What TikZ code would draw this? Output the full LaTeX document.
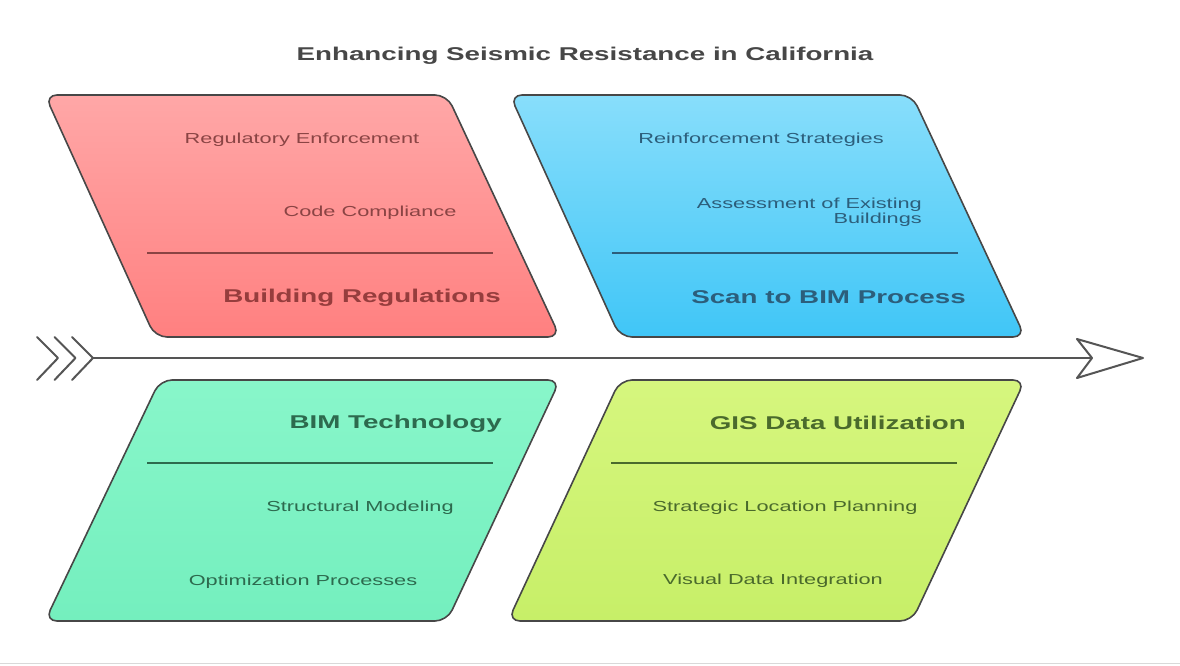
\documentclass[tikz,border=0pt]{standalone}
\usepackage{fontspec}
\setmainfont{Liberation Sans}[FakeStretch=1.5]
\usepackage{tikz}
\usetikzlibrary{shapes,arrows.meta}
\definecolor{edge}{HTML}{474747}
\definecolor{spinec}{HTML}{555555}
\definecolor{redtop}{HTML}{FFA7A7}
\definecolor{redbot}{HTML}{FF8080}
\definecolor{redtxt}{HTML}{8A4444}
\definecolor{bluetop}{HTML}{88DEFB}
\definecolor{bluebot}{HTML}{40C6F7}
\definecolor{bluetxt}{HTML}{2C5E7B}
\definecolor{greentop}{HTML}{88F6CA}
\definecolor{greenbot}{HTML}{74EFBE}
\definecolor{greentxt}{HTML}{2D6A4E}
\definecolor{limetop}{HTML}{D6F67E}
\definecolor{limebot}{HTML}{C7EF68}
\definecolor{limetxt}{HTML}{4A6A2C}
\tikzstyle{bone} = [draw=edge, line width=1.6pt, rounded corners=12pt]
\tikzstyle{sep} = [draw, line width=1.3pt]
\tikzstyle{item} = [inner sep=0pt, font=\fontsize{14.5}{15}\selectfont]
\tikzstyle{head} = [inner sep=0pt, anchor=east, font=\fontsize{18.5}{20}\selectfont\bfseries]
\tikzstyle{spine} = [draw=spinec, line width=2pt]

\begin{document}
\begin{tikzpicture}[x=1pt, y=-1pt]
		            \useasboundingbox (0,0) rectangle (1180,665);
		                \draw [black!15, line width=1pt] (0,663) -- (1180,663);
		                \node [inner sep=0pt, text=black!72, font=\fontsize{18.5}{20}\selectfont\bfseries] (title) at (585,56) {Enhancing Seismic Resistance in California};
		                \path [bone, top color=redtop, bottom color=redbot] (45,95) -- (447,95) -- (560,337) -- (155,337) -- cycle;
		                \path [bone, top color=bluetop, bottom color=bluebot] (510,95) -- (912,95) -- (1025,337) -- (620,337) -- cycle;
		                \path [bone, top color=greentop, bottom color=greenbot] (160,380) -- (560,380) -- (447,621) -- (45,621) -- cycle;
		                \path [bone, top color=limetop, bottom color=limebot] (620,380) -- (1025,380) -- (912,621) -- (508,621) -- cycle;
		                \node [item, text=redtxt] (regenf) at (302,140) {Regulatory Enforcement};
		                \node [item, text=redtxt] (codecomp) at (370,213) {Code Compliance};
		                \node [head, text=redtxt!90!red] (buildreg) at (501,298) {Building Regulations};
		                \node [item, text=bluetxt] (reinf) at (761,140) {Reinforcement Strategies};
		                \node [item, text=bluetxt, anchor=east, align=right] (assess) at (922,212) {Assessment of Existing\\Buildings};
		                \node [head, text=bluetxt] (scanbim) at (966,297) {Scan to BIM Process};
		                \node [head, text=greentxt] (bimtech) at (502,424) {BIM Technology};
		                \node [item, text=greentxt] (structmod) at (360,508) {Structural Modeling};
		                \node [item, text=greentxt] (optproc) at (303,582) {Optimization Processes};
		                \node [head, text=limetxt] (gisdata) at (966,423) {GIS Data Utilization};
		                \node [item, text=limetxt] (stratloc) at (785,508) {Strategic Location Planning};
		                \node [item, text=limetxt] (visdata) at (773,581) {Visual Data Integration};
		                \path [sep, redtxt] (147,253) -- (493,253);
		                \path [sep, bluetxt] (612,253) -- (958,253);
		                \path [sep, greentxt] (147,463) -- (493,463);
		                \path [sep, limetxt] (611,463) -- (957,463);
		                \coordinate (tail) at (93,358);
		                \coordinate (head) at (1092,358);
		                \foreach \t in {58,75.5,93}
		                    \path [spine, line cap=round, line join=round] (\t-21,337) -- (\t,358) -- (\t-21,380);
		                \path [spine] (tail) -- (head);
		                \path [spine, fill=white, line join=round] (head) -- (1077,339) -- (1143,358) -- (1077,378) -- cycle;
		            \end{tikzpicture}
\end{document}
